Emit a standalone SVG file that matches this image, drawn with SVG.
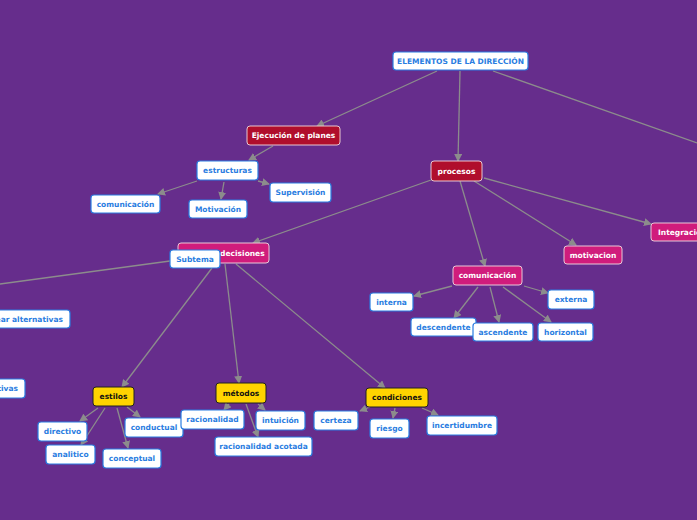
<svg xmlns="http://www.w3.org/2000/svg" width="697" height="520" viewBox="0 0 697 520">
<style>
text{font-family:"DejaVu Sans",Verdana,sans-serif;font-size:7.5px;font-weight:bold;text-anchor:middle;dominant-baseline:central}
.w rect{fill:#fff;stroke:#2a7de1;stroke-width:1.2}
.w text{fill:#2a7de1}
.r rect{fill:#b00e2c;stroke:#e8c8d0;stroke-width:1}
.p rect{fill:#d01c7c;stroke:#e8c8d8;stroke-width:1}
.r text,.p text{fill:#fff}
.y rect{fill:#ffd400;stroke:#222;stroke-width:1}
.y text{fill:#111}
#c path{stroke:#8c8c8c;stroke-width:1.3;fill:none;marker-end:url(#a)}
</style>
<defs><marker id="a" markerWidth="8" markerHeight="8" refX="7" refY="4" orient="auto" markerUnits="userSpaceOnUse"><path d="M0,0L8,4L0,8z" fill="#8c8c8c"/></marker></defs>
<rect width="697" height="520" fill="#662d8c"/>
<g id="c">
<path d="M437,71L317,126"/>
<path d="M460,71L458,161"/>
<path d="M493,71L697,143" style="marker-end:none"/>
<path d="M273,146L249,160"/>
<path d="M197,181L158,194"/>
<path d="M224,182L221,199"/>
<path d="M258,181L269,184"/>
<path d="M431,180L253,243"/>
<path d="M460,181L485,266"/>
<path d="M474,181L576,245"/>
<path d="M484,178L651,224"/>
<path d="M170,261L0,284" style="marker-end:none"/>
<path d="M212,268L122,387"/>
<path d="M225,264L239,383"/>
<path d="M236,264L385,388"/>
<path d="M452,286L414,296"/>
<path d="M478,287L454,318"/>
<path d="M490,287L499,322"/>
<path d="M503,287L551,322"/>
<path d="M524,286L548,293"/>
<path d="M98,408L80,421"/>
<path d="M105,408L81,445"/>
<path d="M117,408L128,448"/>
<path d="M127,407L140,417"/>
<path d="M229,404L224,410"/>
<path d="M246,404L258,437"/>
<path d="M258,404L265,410"/>
<path d="M370,407L360,411"/>
<path d="M395,408L393,418"/>
<path d="M422,408L438,415"/>
</g>
<g id="n0" class="w"><rect x="393" y="52" width="135" height="18" rx="3"/><text x="460.5" y="61">ELEMENTOS DE LA DIRECCIÓN</text></g>
<g id="n1" class="r"><rect x="247" y="126" width="93" height="19" rx="3"/><text x="293.5" y="135.5">Ejecución de planes</text></g>
<g id="n2" class="w"><rect x="197" y="161" width="61" height="19" rx="3"/><text x="227.5" y="170.5">estructuras</text></g>
<g id="n3" class="w"><rect x="91" y="195" width="69" height="18" rx="3"/><text x="125.5" y="204">comunicación</text></g>
<g id="n4" class="w"><rect x="189" y="200" width="58" height="18" rx="3"/><text x="218" y="209">Motivación</text></g>
<g id="n5" class="w"><rect x="270" y="183" width="61" height="19" rx="3"/><text x="300.5" y="192.5">Supervisión</text></g>
<g id="n6" class="r"><rect x="431" y="161" width="51" height="20" rx="3"/><text x="456.5" y="171">procesos</text></g>
<g id="n7" class="p"><rect x="178" y="243" width="91" height="20" rx="3"/><text x="223.5" y="253">Toma de decisiones</text></g>
<g id="n8" class="w"><rect x="170" y="250" width="50" height="18" rx="3"/><text x="195" y="259">Subtema</text></g>
<g id="n9" class="w"><rect x="-50" y="310" width="120" height="18" rx="3"/><text x="63" y="319" style="text-anchor:end">Plantear alternativas</text></g>
<g id="n10" class="w"><rect x="-50" y="379" width="75" height="19" rx="3"/><text x="18" y="388.5" style="text-anchor:end">Perspectivas</text></g>
<g id="n11" class="p"><rect x="651" y="223" width="60" height="18" rx="3"/><text x="658" y="232" style="text-anchor:start">Integración</text></g>
<g id="n12" class="p"><rect x="564" y="246" width="58" height="18" rx="3"/><text x="593" y="255">motivacion</text></g>
<g id="n13" class="p"><rect x="453" y="266" width="69" height="19" rx="3"/><text x="487.5" y="275.5">comunicación</text></g>
<g id="n14" class="w"><rect x="370" y="293" width="43" height="18" rx="3"/><text x="391.5" y="302">interna</text></g>
<g id="n15" class="w"><rect x="411" y="318" width="65" height="18" rx="3"/><text x="443.5" y="327">descendente</text></g>
<g id="n16" class="w"><rect x="473" y="323" width="60" height="18" rx="3"/><text x="503" y="332">ascendente</text></g>
<g id="n17" class="w"><rect x="538" y="323" width="55" height="18" rx="3"/><text x="565.5" y="332">horizontal</text></g>
<g id="n18" class="w"><rect x="548" y="290" width="46" height="19" rx="3"/><text x="571" y="299.5">externa</text></g>
<g id="n19" class="y"><rect x="93" y="387" width="41" height="19" rx="3"/><text x="113.5" y="396.5">estilos</text></g>
<g id="n20" class="y"><rect x="216" y="383" width="50" height="20" rx="3"/><text x="241" y="393">métodos</text></g>
<g id="n21" class="y"><rect x="366" y="388" width="62" height="19" rx="3"/><text x="397" y="397.5">condiciones</text></g>
<g id="n22" class="w"><rect x="38" y="422" width="49" height="19" rx="3"/><text x="62.5" y="431.5">directivo</text></g>
<g id="n23" class="w"><rect x="46" y="445" width="49" height="19" rx="3"/><text x="70.5" y="454.5">analitico</text></g>
<g id="n24" class="w"><rect x="125" y="418" width="58" height="19" rx="3"/><text x="154" y="427.5">conductual</text></g>
<g id="n25" class="w"><rect x="103" y="449" width="58" height="19" rx="3"/><text x="132" y="458.5">conceptual</text></g>
<g id="n26" class="w"><rect x="181" y="410" width="63" height="19" rx="3"/><text x="212.5" y="419.5">racionalidad</text></g>
<g id="n27" class="w"><rect x="256" y="411" width="49" height="19" rx="3"/><text x="280.5" y="420.5">intuición</text></g>
<g id="n28" class="w"><rect x="215" y="437" width="97" height="19" rx="3"/><text x="263.5" y="446.5">racionalidad acotada</text></g>
<g id="n29" class="w"><rect x="314" y="411" width="44" height="19" rx="3"/><text x="336" y="420.5">certeza</text></g>
<g id="n30" class="w"><rect x="370" y="419" width="39" height="19" rx="3"/><text x="389.5" y="428.5">riesgo</text></g>
<g id="n31" class="w"><rect x="427" y="416" width="70" height="19" rx="3"/><text x="462" y="425.5">incertidumbre</text></g>
</svg>
